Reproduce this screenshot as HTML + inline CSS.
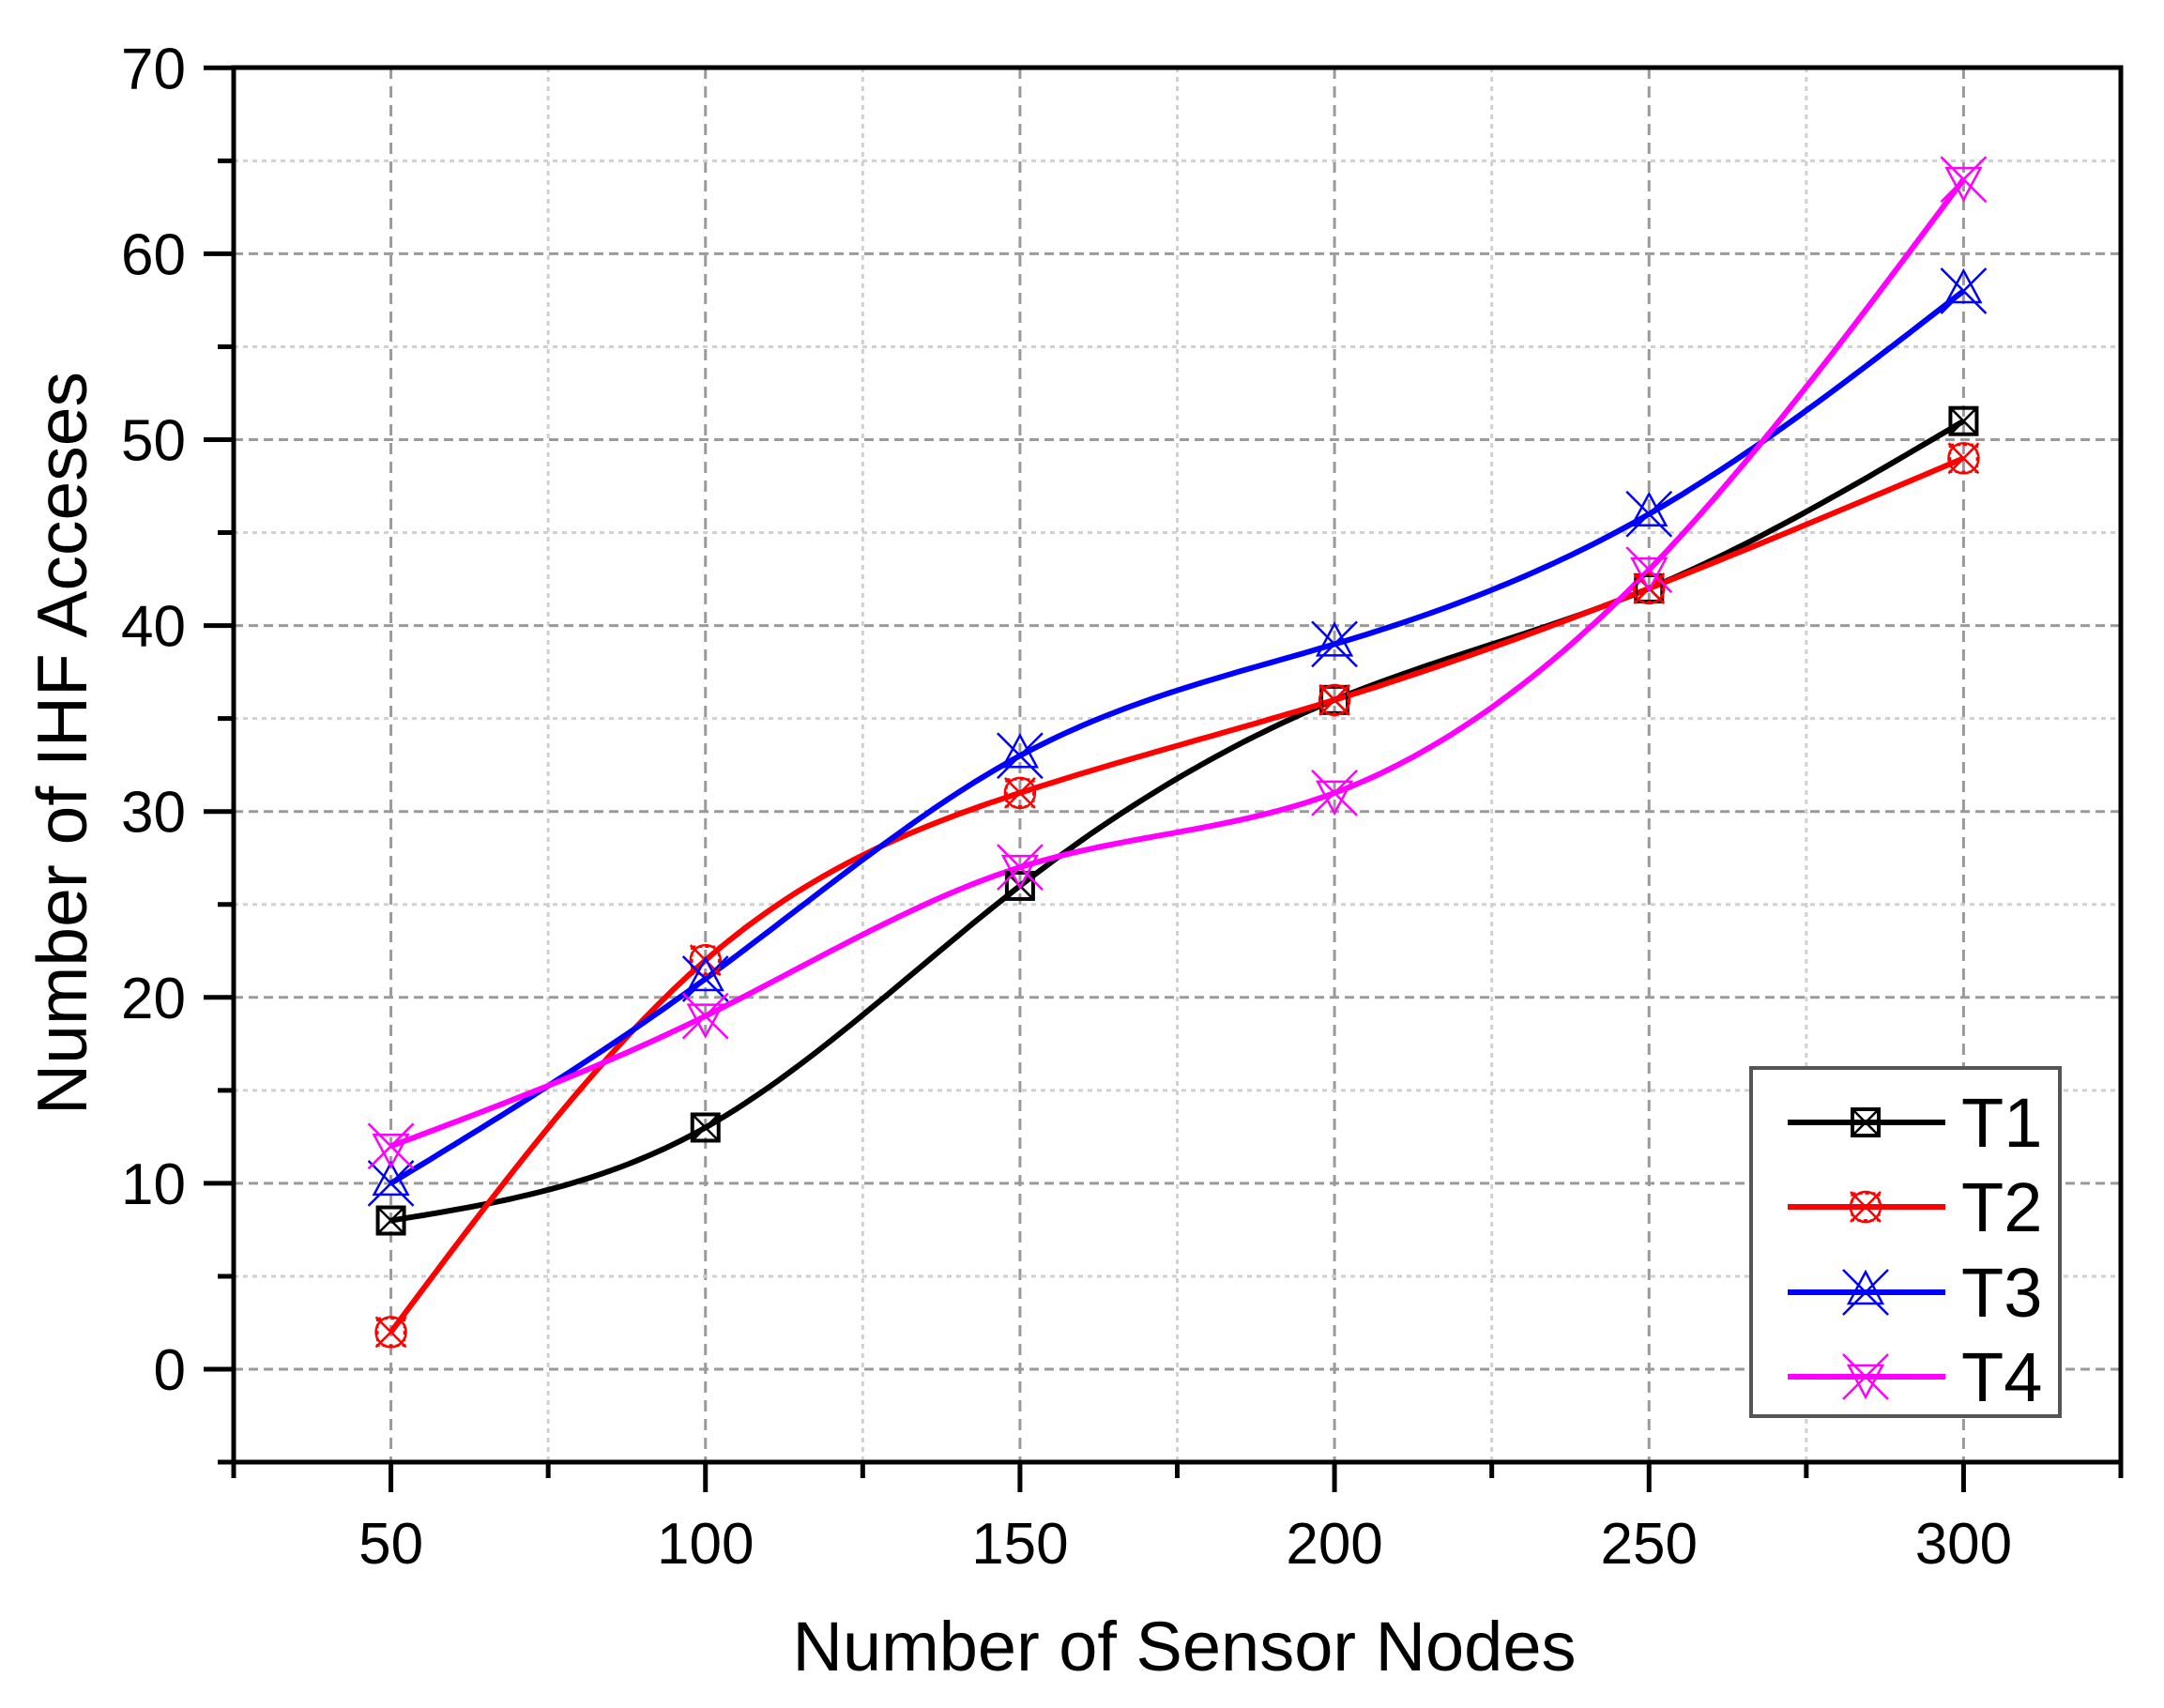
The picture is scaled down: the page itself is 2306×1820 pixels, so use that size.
<!DOCTYPE html>
<html><head><meta charset="utf-8">
<style>
html,body{margin:0;padding:0;background:#fff;}
svg{display:block;}
text{font-family:"Liberation Sans",Arial,sans-serif;fill:#000;}
</style></head>
<body>
<svg id="c" width="2306" height="1820" viewBox="0 0 2306 1820" xmlns="http://www.w3.org/2000/svg">
<rect width="2306" height="1820" fill="#fff"/>
<g id="grid"></g>
<g id="series"></g>
<g id="axes"></g>
<g id="labels">
<text x="1262" y="1780" font-size="74" text-anchor="middle">Number of Sensor Nodes</text>
<text transform="translate(92,792) rotate(-90)" font-size="75" text-anchor="middle">Number of IHF Acceses</text>
</g>
<g id="legend">
<rect x="1866" y="1138" width="329" height="371" fill="#fff" stroke="#555" stroke-width="4"/>
<text x="2090" y="1222" font-size="74">T1</text>
<text x="2090" y="1312" font-size="74">T2</text>
<text x="2090" y="1403" font-size="74">T3</text>
<text x="2090" y="1493" font-size="74">T4</text>
</g>
</svg>
<script>
var NS="http://www.w3.org/2000/svg";
function X(v){return 249+(v-25)*(2011/300);}
function Y(v){return 1459-v*19.81;}
function el(p,t,a){var e=document.createElementNS(NS,t);for(var k in a)e.setAttribute(k,a[k]);p.appendChild(e);return e;}
var grid=document.getElementById('grid'),axes=document.getElementById('axes'),ser=document.getElementById('series'),leg=document.getElementById('legend');
var L=249,R=2260,T=72,B=1558;
for(var v=50;v<=300;v+=25){var maj=(v%50==0);el(grid,'line',{x1:X(v),x2:X(v),y1:T,y2:B,stroke:maj?'#9a9a9a':'#d0d0d0','stroke-width':3,'stroke-dasharray':maj?'12,8':'5,5'});}
for(var v=0;v<=65;v+=5){var maj=(v%10==0);el(grid,'line',{x1:L,x2:R,y1:Y(v),y2:Y(v),stroke:maj?'#9a9a9a':'#d0d0d0','stroke-width':3,'stroke-dasharray':maj?'10,6':'5,5'});}
el(axes,'rect',{x:L,y:T,width:R-L,height:B-T,fill:'none',stroke:'#000','stroke-width':5});
for(var v=-5;v<=70;v+=5){var maj=(v%10==0);el(axes,'line',{x1:maj?217:232,x2:L,y1:Y(v),y2:Y(v),stroke:'#000','stroke-width':5});
 if(maj){var t=el(axes,'text',{x:198,y:Y(v)+22,'font-size':62,'text-anchor':'end'});t.textContent=v;}}
for(var v=25;v<=325;v+=25){var maj=(v%50==0);el(axes,'line',{x1:X(v),x2:X(v),y1:B,y2:maj?1590:1575,stroke:'#000','stroke-width':5});
 if(maj&&v>=50&&v<=300){var t=el(axes,'text',{x:X(v),y:1666,'font-size':62,'text-anchor':'middle'});t.textContent=v;}}
var xs=[50,100,150,200,250,300];
var S=[
 {c:'#000',d:[8,13,26,36,42,51],m:'sq'},
 {c:'#f00',d:[2,22,31,36,42,49],m:'ci'},
 {c:'#00f',d:[10,21,33,39,46,58],m:'up'},
 {c:'#f0f',d:[12,19,27,31,43,64],m:'dn'}];
function spline(x,y){var n=x.length,h=[],a=[],l=[1],mu=[0],z=[0],c=new Array(n).fill(0),b=[],d=[];
 for(var i=0;i<n-1;i++)h[i]=x[i+1]-x[i];
 for(var i=1;i<n-1;i++)a[i]=3/h[i]*(y[i+1]-y[i])-3/h[i-1]*(y[i]-y[i-1]);
 for(var i=1;i<n-1;i++){l[i]=2*(x[i+1]-x[i-1])-h[i-1]*mu[i-1];mu[i]=h[i]/l[i];z[i]=(a[i]-h[i-1]*z[i-1])/l[i];}
 for(var j=n-2;j>=0;j--){c[j]=z[j]-mu[j]*c[j+1];if(j==0)c[0]=0;b[j]=(y[j+1]-y[j])/h[j]-h[j]*(c[j+1]+2*c[j])/3;d[j]=(c[j+1]-c[j])/(3*h[j]);}
 var pts=[];for(var j=0;j<n-1;j++){for(var s=0;s<=40;s++){var t=h[j]*s/40;pts.push([x[j]+t,y[j]+b[j]*t+c[j]*t*t+d[j]*t*t*t]);}}return pts;}
function marker(g,m,cx,cy,col){var w=2.5;
 if(m=='sq'){var r=14;el(g,'rect',{x:cx-r,y:cy-r,width:2*r,height:2*r,fill:'none',stroke:col,'stroke-width':4});
   el(g,'path',{d:'M'+(cx-r)+' '+(cy-r)+'L'+(cx+r)+' '+(cy+r)+'M'+(cx+r)+' '+(cy-r)+'L'+(cx-r)+' '+(cy+r),stroke:col,'stroke-width':w,fill:'none'});}
 else if(m=='ci'){var r=16;el(g,'circle',{cx:cx,cy:cy,r:r,fill:'none',stroke:col,'stroke-width':w});
   el(g,'rect',{x:cx-r*0.9,y:cy-r*0.9,width:1.8*r,height:1.8*r,fill:'none',stroke:col,'stroke-width':w,'stroke-dasharray':'4,3'});
   el(g,'path',{d:'M'+(cx-r)+' '+(cy-r)+'L'+(cx+r)+' '+(cy+r)+'M'+(cx+r)+' '+(cy-r)+'L'+(cx-r)+' '+(cy+r),stroke:col,'stroke-width':w,fill:'none'});}
 else{var r=24,s=(m=='up')?1:-1;
   el(g,'path',{d:'M'+cx+' '+(cy-s*r*0.9)+'L'+(cx+r*0.75)+' '+(cy+s*r*0.5)+'L'+(cx-r*0.75)+' '+(cy+s*r*0.5)+'Z',stroke:col,'stroke-width':w,fill:'none'});
   el(g,'path',{d:'M'+(cx-r)+' '+(cy-r)+'L'+(cx+r)+' '+(cy+r)+'M'+(cx+r)+' '+(cy-r)+'L'+(cx-r)+' '+(cy+r),stroke:col,'stroke-width':w,fill:'none'});}}
S.forEach(function(s){var p=spline(xs,s.d);var d='';p.forEach(function(q,i){d+=(i?'L':'M')+X(q[0]).toFixed(1)+' '+Y(q[1]).toFixed(1);});
 el(ser,'path',{d:d,fill:'none',stroke:s.c,'stroke-width':6,'stroke-linejoin':'round'});});
S.forEach(function(s){xs.forEach(function(x,i){marker(ser,s.m,X(x),Y(s.d[i]),s.c);});});
var ly=[1196,1286,1377,1467];
S.forEach(function(s,k){el(leg,'line',{x1:1905,x2:2073,y1:ly[k],y2:ly[k],stroke:s.c,'stroke-width':6});marker(leg,s.m,1988,ly[k],s.c);});
</script>
</body></html>
